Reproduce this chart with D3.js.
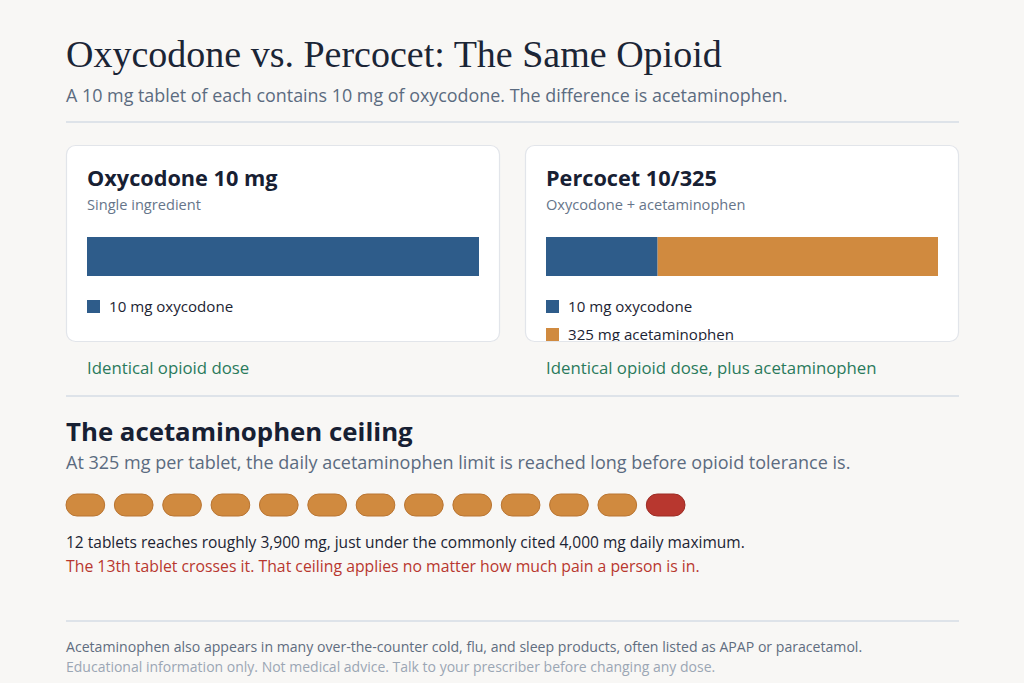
<!DOCTYPE html>
<html>
<head>
<meta charset="utf-8">
<script src="https://cdn.jsdelivr.net/npm/d3@7"></script>
<style>
  body { margin: 0; background: #f8f7f5; }
  svg { display: block; }
  .serif { font-family: "Liberation Serif", "DejaVu Serif", serif; }
  .sans { font-family: "Open Sans", "Noto Sans", sans-serif; }
</style>
</head>
<body>
<div id="chart"></div>
<script>
// Data
const cardTitles = ["Oxycodone 10 mg", "Percocet 10/325"];
const cardSubtitles = ["Single ingredient", "Oxycodone + acetaminophen"];
const cardNotes = ["Identical opioid dose", "Identical opioid dose, plus acetaminophen"];
const ingredientNames = ["oxycodone", "acetaminophen"];
const oxycodoneMg = [10, 10];
const acetaminophenMg = [0, 325];

const tabletMg = 325;
const dailyMaxMg = 4000;
const tabletNumbers = [1, 2, 3, 4, 5, 6, 7, 8, 9, 10, 11, 12, 13];

const colors = {
  oxycodone: "#2e5c8a",
  acetaminophen: "#d08a3f",
  over: "#b8372f"
};

const svgWidth = 1024;
const svgHeight = 683;
const left = 66;
const right = 959;

const svg = d3.select("#chart")
  .append("svg")
  .attr("width", svgWidth)
  .attr("height", svgHeight);

svg.append("rect")
  .attr("width", svgWidth)
  .attr("height", svgHeight)
  .attr("fill", "#f8f7f5");

// Header
svg.append("text")
  .attr("class", "serif")
  .attr("x", left)
  .attr("y", 67)
  .attr("font-size", 38)
  .attr("fill", "#1b2536")
  .text("Oxycodone vs. Percocet: The Same Opioid");

svg.append("text")
  .attr("class", "sans")
  .attr("x", left)
  .attr("y", 102)
  .attr("font-size", 17.9)
  .attr("fill", "#5b6b80")
  .text("A 10 mg tablet of each contains 10 mg of oxycodone. The difference is acetaminophen.");

const divider = y => svg.append("line")
  .attr("x1", left).attr("x2", right)
  .attr("y1", y).attr("y2", y)
  .attr("stroke", "#d6dce4")
  .attr("stroke-width", 1.5);

divider(122);

// Cards
const cardW = 433;
const cardH = 196;
const cardX = [66, 525];
const cardY = 145;

const cards = cardTitles.map((t, i) => {
  const segs = [
    { name: ingredientNames[0], mg: oxycodoneMg[i] },
    { name: ingredientNames[1], mg: acetaminophenMg[i] }
  ].filter(d => d.mg > 0);
  // segment widths on a log scale of mg
  let acc = 0;
  segs.forEach(d => { d.w = Math.log10(d.mg); d.x0 = acc; acc += d.w; d.x1 = acc; });
  return { title: t, sub: cardSubtitles[i], note: cardNotes[i], segs, total: acc, x: cardX[i] };
});

const defs = svg.append("defs");
cards.forEach((c, i) => {
  defs.append("clipPath").attr("id", "clip" + i)
    .append("rect")
    .attr("x", c.x).attr("y", cardY)
    .attr("width", cardW).attr("height", cardH)
    .attr("rx", 9);
});

const cardG = svg.selectAll("g.card")
  .data(cards)
  .enter()
  .append("g")
  .attr("class", "card");

cardG.append("rect")
  .attr("x", d => d.x + 0.5)
  .attr("y", cardY + 0.5)
  .attr("width", cardW)
  .attr("height", cardH)
  .attr("rx", 9)
  .attr("fill", "#ffffff")
  .attr("stroke", "#e2e5ea")
  .attr("stroke-width", 1.2);

const inner = cardG.append("g")
  .attr("clip-path", (d, i) => `url(#clip${i})`);

inner.append("text")
  .attr("class", "sans")
  .attr("x", d => d.x + 21)
  .attr("y", 186)
  .attr("font-size", 21.7)
  .attr("font-weight", 700)
  .attr("fill", "#172033")
  .text(d => d.title);

inner.append("text")
  .attr("class", "sans")
  .attr("x", d => d.x + 21)
  .attr("y", 210)
  .attr("font-size", 14.6)
  .attr("fill", "#66758a")
  .text(d => d.sub);

inner.each(function(c) {
  const g = d3.select(this);
  const x = d3.scaleLinear()
    .domain([0, c.total])
    .range([c.x + 21, c.x + 413]);

  g.selectAll("rect.seg")
    .data(c.segs)
    .enter()
    .append("rect")
    .attr("class", "seg")
    .attr("x", d => x(d.x0))
    .attr("y", 237)
    .attr("width", d => x(d.x1) - x(d.x0))
    .attr("height", 39)
    .attr("fill", d => colors[d.name]);

  const y = d3.scalePoint()
    .domain(c.segs.map(d => d.name))
    .range([0, 28]);

  const leg = g.selectAll("g.leg")
    .data(c.segs)
    .enter()
    .append("g")
    .attr("class", "leg")
    .attr("transform", d => `translate(${c.x + 21}, ${300 + (c.segs.length > 1 ? y(d.name) : 0)})`);

  leg.append("rect")
    .attr("width", 13)
    .attr("height", 13)
    .attr("fill", d => colors[d.name]);

  leg.append("text")
    .attr("class", "sans")
    .attr("x", 22)
    .attr("y", 12)
    .attr("font-size", 15.1)
    .attr("font-weight", 500)
    .attr("fill", "#1c2433")
    .text(d => `${d.mg} mg ${d.name}`);
});

cardG.append("text")
  .attr("class", "sans")
  .attr("x", d => d.x + 21)
  .attr("y", 374)
  .attr("font-size", 16.8)
  .attr("font-weight", 500)
  .attr("fill", "#2a7a5c")
  .text(d => d.note);

divider(396);

// Ceiling section
svg.append("text")
  .attr("class", "sans")
  .attr("x", left)
  .attr("y", 441)
  .attr("font-size", 25.8)
  .attr("font-weight", 700)
  .attr("fill", "#172033")
  .text("The acetaminophen ceiling");

svg.append("text")
  .attr("class", "sans")
  .attr("x", left)
  .attr("y", 469)
  .attr("font-size", 18)
  .attr("fill", "#5b6b80")
  .text("At 325 mg per tablet, the daily acetaminophen limit is reached long before opioid tolerance is.");

const pillX = d3.scaleBand()
  .domain(tabletNumbers)
  .range([66, 685])
  .paddingInner(0.2)
  .paddingOuter(0);

svg.selectAll("rect.pill")
  .data(tabletNumbers)
  .enter()
  .append("rect")
  .attr("class", "pill")
  .attr("x", d => pillX(d))
  .attr("y", 494)
  .attr("width", pillX.bandwidth())
  .attr("height", 22)
  .attr("rx", 11)
  .attr("fill", d => d * tabletMg > dailyMaxMg ? colors.over : colors.acetaminophen)
  .attr("stroke", d => d * tabletMg > dailyMaxMg ? "#9c2c24" : "#b97532")
  .attr("stroke-width", 1);

const fmt = d3.format(",");
const under = tabletNumbers.filter(d => d * tabletMg <= dailyMaxMg);
const lastUnder = under[under.length - 1];

svg.append("text")
  .attr("class", "sans")
  .attr("x", left)
  .attr("y", 548)
  .attr("font-size", 15.5)
  .attr("font-weight", 500)
  .attr("fill", "#1c2433")
  .text(`${lastUnder} tablets reaches roughly ${fmt(lastUnder * tabletMg)} mg, just under the commonly cited ${fmt(dailyMaxMg)} mg daily maximum.`);

svg.append("text")
  .attr("class", "sans")
  .attr("x", left)
  .attr("y", 572)
  .attr("font-size", 15.8)
  .attr("font-weight", 500)
  .attr("fill", colors.over)
  .text(`The ${lastUnder + 1}th tablet crosses it. That ceiling applies no matter how much pain a person is in.`);

divider(621);

// Footer
svg.append("text")
  .attr("class", "sans")
  .attr("x", left)
  .attr("y", 652)
  .attr("font-size", 14.1)
  .attr("fill", "#5f6d80")
  .text("Acetaminophen also appears in many over-the-counter cold, flu, and sleep products, often listed as APAP or paracetamol.");

svg.append("text")
  .attr("class", "sans")
  .attr("x", left)
  .attr("y", 672)
  .attr("font-size", 14)
  .attr("fill", "#9ba6b4")
  .text("Educational information only. Not medical advice. Talk to your prescriber before changing any dose.");
</script>
</body>
</html>
